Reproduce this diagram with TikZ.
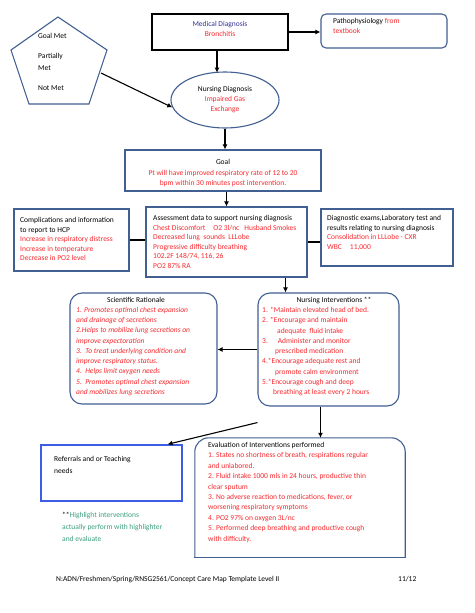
\documentclass[tikz,border=0pt]{standalone}
\usepackage{fontspec}
\setmainfont{Carlito}
\usetikzlibrary{arrows.meta,shapes.geometric}
\definecolor{mapred}{RGB}{250,40,45}
\definecolor{mapnavy}{RGB}{50,50,150}
\definecolor{mapline}{RGB}{65,95,145}
\definecolor{mapblue}{RGB}{60,95,225}
\definecolor{mapgreen}{RGB}{60,160,125}

\begin{document}
\begin{tikzpicture}[x=1pt,y=-1pt,
    every node/.style={inner sep=0pt},
    txt/.style={anchor=north west,align=left,font=\fontsize{7.5}{10}\selectfont},
    tight/.style={font=\fontsize{7.5}{9.6}\selectfont},
    ctxt/.style={align=center,font=\fontsize{7.5}{10.5}\selectfont},
    mapbox/.style={draw=mapline,line width=1.1pt},
    roundbox/.style={mapbox,rounded corners=12pt},
    conn/.style={line width=1.1pt,-{Latex[length=5pt,width=5pt]}},
    link/.style={line width=1.1pt}]
\useasboundingbox[fill=white] (0,0) rectangle (474,613);

\draw[mapline,line width=1.1pt] (58,17) -- (107,50) -- (89,104) -- (29,104) -- (11,50) -- cycle;
\coordinate (pentout) at (101,73);
\node[txt,anchor=base west] (gmet) at (38,38.5) {Goal Met};
\node[txt,anchor=base west] (pmet) at (38,58.5) {Partially};
\node[txt,anchor=base west] (pmet2) at (38,70.5) {Met};
\node[txt,anchor=base west] (nmet) at (38,90.5) {Not Met};

\node[draw=black,line width=1.3pt,minimum width=136pt,minimum height=36pt] (meddx) at (220,32) {};
\node[ctxt] (medtxt) at (220,29) {\textcolor{mapnavy}{Medical Diagnosis}\\\textcolor{mapred}{Bronchitis}};

\node[mapbox,rounded corners=5pt,minimum width=126pt,minimum height=34pt] (patho) at (384,31) {};
\node[txt] (pathotxt) at (333,18) {Pathophysiology \textcolor{mapred}{from}\\\textcolor{mapred}{textbook}};

\node[ellipse,draw=mapline,line width=1.1pt,minimum width=108pt,minimum height=56pt] (nursdx) at (225,100) {};
\node[ctxt,font=\fontsize{7.5}{10}\selectfont] (nurstxt) at (225,100) {Nursing Diagnosis\\\textcolor{mapred}{Impaired Gas}\\\textcolor{mapred}{Exchange}};

\node[mapbox,minimum width=196pt,minimum height=41pt] (goal) at (223,170.5) {};
\node[ctxt] (goaltxt) at (223,173) {Goal\\\textcolor{mapred}{Pt will have improved respiratory rate of 12 to 20}\\\textcolor{mapred}{bpm within 30 minutes post intervention.}};

\node[mapbox,minimum width=161pt,minimum height=70pt] (assess) at (226.5,242) {};
\node[txt,tight] (assesstxt) at (153,215) {Assessment data to support nursing diagnosis\\
\textcolor{mapred}{Chest Discomfort\hspace{8pt}O2 3l/nc\hspace{5pt}Husband Smokes}\\
\textcolor{mapred}{Decreased lung\ \ sounds\ \ LLLobe}\\
\textcolor{mapred}{Progressive difficulty breathing}\\
\textcolor{mapred}{102.2F 148/74, 116, 26}\\
\textcolor{mapred}{PO2 87\% RA}};

\node[mapbox,minimum width=115pt,minimum height=62pt] (compl) at (71.5,240) {};
\node[txt,tight] (compltxt) at (20,217) {Complications and information\\to report to HCP\\
\textcolor{mapred}{Increase in respiratory distress}\\
\textcolor{mapred}{Increase in temperature}\\
\textcolor{mapred}{Decrease in PO2 level}};

\node[mapbox,minimum width=132pt,minimum height=57pt] (diagex) at (387,237.5) {};
\node[txt,tight] (diagtxt) at (327,215) {Diagnostic exams,Laboratory test and\\results relating to nursing diagnosis\\
\textcolor{mapred}{Consolidation in LLLobe - CXR}\\
\textcolor{mapred}{WBC\hspace{8pt}11,000}};

\node[roundbox,minimum width=147pt,minimum height=111pt] (rationale) at (143.5,348.5) {};
\node[ctxt] (rattitle) at (136,300) {Scientific Rationale};
\node[txt,font=\fontsize{7.5}{10.25}\selectfont\itshape,text=mapred] (rattxt) at (76,307) {1. Promotes optimal chest expansion\\
and drainage of secretions\\
2.Helps to mobilize lung secretions on\\
improve expectoration\\
3.\ \ To treat underlying condition and\\
improve respiratory status.\\
4.\ \ Helps limit oxygen needs\\
5.\ \ Promotes optimal chest expansion\\
and mobilizes lung secretions};

\node[roundbox,minimum width=141pt,minimum height=113pt] (interv) at (328.5,349.5) {};
\node[ctxt] (intitle) at (334,300) {Nursing Interventions **};
\node[txt,font=\fontsize{7.5}{10.25}\selectfont,text=mapred] (inttxt) at (262,307) {1. *Maintain elevated head of bed.\\
2. *Encourage and maintain\\
\hspace{15pt}adequate\ \ fluid intake\\
3.\hspace{10pt}Administer and monitor\\
\hspace{13pt}prescribed medication\\
4.*Encourage adequate rest and\\
\hspace{13pt}promote calm environment\\
5.*Encourage cough and deep\\
\hspace{11pt}breathing at least every 2 hours};

\node[draw=mapblue,line width=1.4pt,minimum width=141pt,minimum height=56pt] (referral) at (111.5,473) {};
\node[txt,font=\fontsize{7.5}{12}\selectfont] (reftxt) at (54,456) {Referrals and or Teaching\\needs};

\node[txt,font=\fontsize{7.5}{12}\selectfont,text=mapgreen] (hlnote) at (62,512) {\textcolor{black}{**}Highlight interventions\\actually perform with highlighter\\and evaluate};

\node[minimum width=210pt,minimum height=119pt] (evalbox) at (300,497.5) {};
\draw[mapline,line width=1.1pt,rounded corners=14pt] (evalbox.south west) -- (evalbox.north west) -- (evalbox.north east) -- (evalbox.south east);
\draw[mapline,line width=1.1pt,line cap=rect] (evalbox.south west) -- (evalbox.south east);
\node[txt,font=\fontsize{7.5}{10.4}\selectfont] (evaltxt) at (208,442) {Evaluation of Interventions performed\\
\textcolor{mapred}{1. States no shortness of breath, respirations regular}\\
\textcolor{mapred}{and unlabored.}\\
\textcolor{mapred}{2. Fluid intake 1000 mls in 24 hours, productive thin}\\
\textcolor{mapred}{clear sputum}\\
\textcolor{mapred}{3. No adverse reaction to medications, fever, or}\\
\textcolor{mapred}{worsening respiratory symptoms}\\
\textcolor{mapred}{4. PO2 97\% on oxygen 3L/nc}\\
\textcolor{mapred}{5. Performed deep breathing and productive cough}\\
\textcolor{mapred}{with difficulty.}};

\node[txt,anchor=base west] (footer) at (56,581.5) {N:ADN/Freshmen/Spring/RNSG2561/Concept Care Map Template Level II};
\node[txt,anchor=base west] (pagenum) at (398,581.5) {11/12};

\draw[conn] (meddx.east) -- (patho.west |- meddx.east);
\draw[conn] (meddx.south -| nursdx.north) ++(-8,0) -- ++(0,22);
\draw[conn] (pentout) -- (nursdx.188);
\draw[conn] (nursdx.south) -- (nursdx.south |- goal.north);
\draw[conn] (goal.south -| assess.north) -- (assess.north);
\draw[link] (compl.east) -- (compl.east -| assess.west);
\draw[link] (diagex.west |- assess.west) -- (assess.west -| assess.east);
\draw[conn] ([xshift=59pt]assess.south) -- ([xshift=59pt]assess.south |- interv.north);
\draw[conn] (interv.west) -- (rationale.east |- interv.west);
\draw[conn] ([yshift=-16pt]interv.south west) -- ([xshift=56pt]referral.north);
\draw[conn] ([xshift=-8pt]interv.south) -- ([xshift=-8pt]interv.south |- evalbox.north);
\end{tikzpicture}
\end{document}
